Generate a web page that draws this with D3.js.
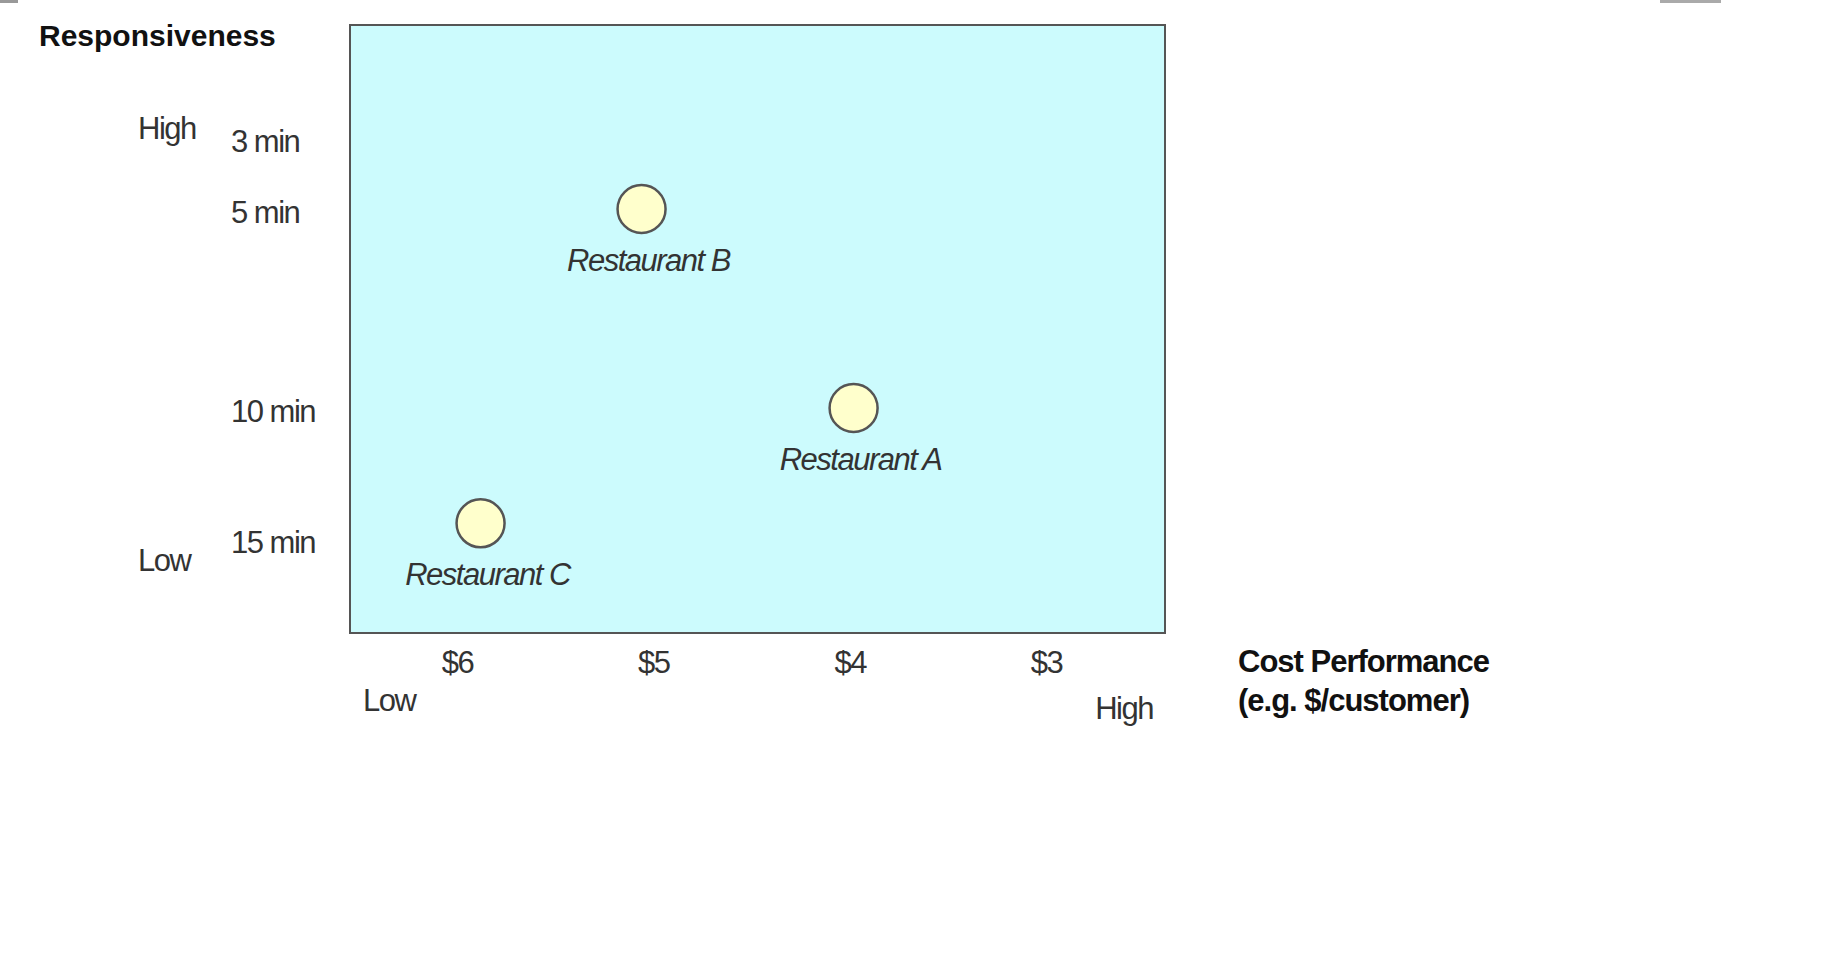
<!DOCTYPE html><html><head><meta charset="utf-8"><script src="https://cdn.jsdelivr.net/npm/d3@7"></script>
<style>body{margin:0;background:#fff}text{font-family:"Liberation Sans",Arial,sans-serif}</style></head><body><svg id="c" width="1828" height="974"></svg>
<script>
const restaurants=["Restaurant A","Restaurant B","Restaurant C"];
const costs=[3.98,5.06,5.88];
const minutes=[10,5,14.4];
const xTicks=[6,5,4,3];
const yTicks=[3,5,10,15];
const svg=d3.select("#c");
svg.append("rect").attr("x",0).attr("y",0).attr("width",18).attr("height",3).attr("fill","#999");
svg.append("rect").attr("x",1660).attr("y",0).attr("width",61).attr("height",3).attr("fill","#aaa");
const L=350,R=1165,T=25,B=633;
const x=d3.scaleLinear().domain([6,3]).range([457,1046]);
const y=d3.scaleLinear().domain(yTicks).range([138,209,408,539]);
svg.append("rect").attr("x",L).attr("y",T).attr("width",R-L).attr("height",B-T).attr("fill","#ccfbfd").attr("stroke","#555").attr("stroke-width",2);
const ty=svg.append("g").attr("transform",`translate(231,4)`).call(d3.axisLeft(y).tickValues(yTicks).tickSize(0).tickPadding(0).tickFormat(d=>d+" min"));
ty.select(".domain").remove();
ty.selectAll("text").attr("x",0).attr("text-anchor","start").attr("font-size",31).attr("fill","#333").attr("letter-spacing",-1.5).attr("font-family","Liberation Sans,Arial");
const tx=svg.append("g").attr("transform",`translate(0,${B})`).call(d3.axisBottom(x).tickValues(xTicks).tickSize(0).tickPadding(18).tickFormat(d=>"$"+d));
tx.select(".domain").remove();
tx.selectAll("text").attr("font-size",31).attr("fill","#333").attr("font-family","Liberation Sans,Arial").attr("letter-spacing",-1.5);
function t(s,xx,yy,o){const e=svg.append("text").attr("x",xx).attr("y",yy).text(s).attr("font-size",o.fs||31).attr("fill",o.c||"#333").attr("text-anchor",o.a||"start").attr("letter-spacing",o.ls!=null?o.ls:-1.5);if(o.b)e.attr("font-weight","bold");return e;}
t("Responsiveness",39,46,{fs:30,b:1,c:"#111",ls:0});
t("High",138,139,{});t("Low",138,571,{});
t("Low",363,711,{});t("High",1153,719,{a:"end"});
t("Cost Performance",1238,672,{fs:31,b:1,c:"#111",ls:-1});
t("(e.g. $/customer)",1238,711,{fs:31,b:1,c:"#111",ls:-1});
const g=svg.append("g");
restaurants.forEach((n,i)=>{
 g.append("circle").attr("cx",x(costs[i])).attr("cy",y(minutes[i])).attr("r",24).attr("fill","#ffffcc").attr("stroke","#555").attr("stroke-width",2.5);
 g.append("text").attr("x",x(costs[i])+7).attr("y",y(minutes[i])+62).attr("text-anchor","middle").attr("font-size",31).attr("font-style","italic").attr("fill","#333").attr("letter-spacing",-1.5).text(n);
});
</script></body></html>
